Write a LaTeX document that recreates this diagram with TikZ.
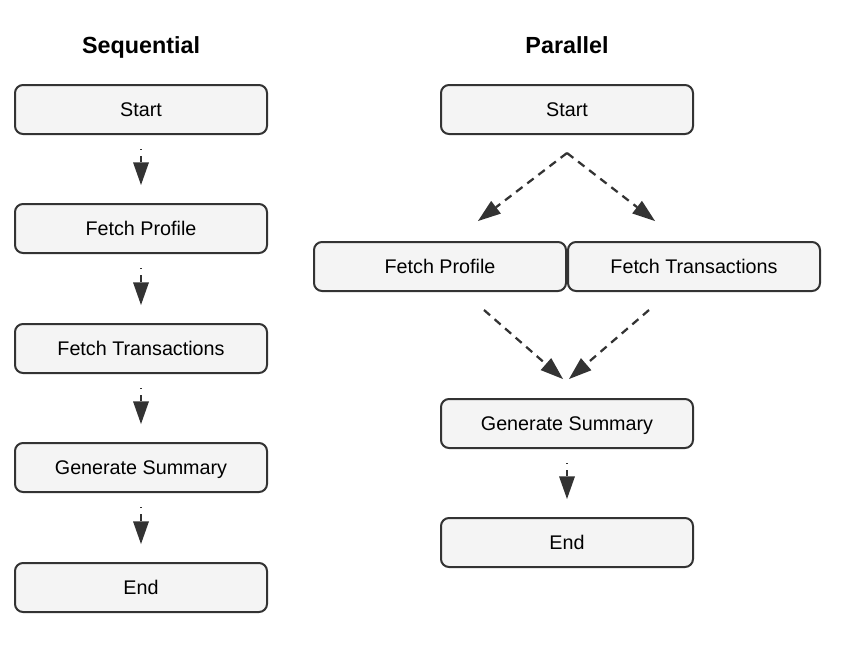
\documentclass[tikz,border=0pt]{standalone}
\usepackage{fontspec}
\setmainfont{Liberation Sans}
\usetikzlibrary{arrows.meta,calc}
\definecolor{edge}{HTML}{333333}
\definecolor{boxfill}{HTML}{F4F4F4}
\begin{document}
\begin{tikzpicture}[x=0.75pt,y=-0.75pt,
  stepbox/.style={draw=edge,fill=boxfill,line width=1.5pt,rounded corners=6pt,
    minimum width=189pt,minimum height=36.75pt,inner sep=0pt,
    text height=10.6pt,text depth=0pt,
    font=\fontsize{14.8}{17}\selectfont,text=black},
  title/.style={font=\fontsize{17.5}{20}\selectfont\bfseries,text=black,anchor=base},
  flow/.style={draw=edge,line width=1.7pt,dash pattern=on 6pt off 4.5pt,
    -{Triangle[length=17pt,width=12pt,line width=0pt,fill=edge]}},
  seqflow/.style={flow,dash phase=4.9pt,shorten <=10.5pt,shorten >=13.5pt}]
\useasboundingbox (0,0) rectangle (853,664);
\node[title] (tseq) at (141,53.5) {Sequential};
\node[title] (tpar) at (567,53.5) {Parallel};
% sequential
\node[stepbox] (s1) at (141,109.5) {Start};
\node[stepbox] (s2) at (141,228.5) {Fetch Profile};
\node[stepbox] (s3) at (141,348.5) {Fetch Transactions};
\node[stepbox] (s4) at (141,467.5) {Generate Summary};
\node[stepbox] (s5) at (141,587.5) {End};
\draw[seqflow] (s1.south) -- (s2.north);
\draw[seqflow] (s2.south) -- (s3.north);
\draw[seqflow] (s3.south) -- (s4.north);
\draw[seqflow] (s4.south) -- (s5.north);
% parallel
\node[stepbox] (p1) at (567,109.5) {Start};
\node[stepbox] (pfp) at (440,266.5) {Fetch Profile};
\node[stepbox] (pft) at (694,266.5) {Fetch Transactions};
\node[stepbox] (pgs) at (567,423.5) {Generate Summary};
\node[stepbox] (pend) at (567,542.5) {End};
\draw[flow] ($(p1.south)+(0,18)$) -- ($(pfp.north)+(38,-20)$);
\draw[flow] ($(p1.south)+(0,18)$) -- ($(pft.north)+(-39,-20)$);
\draw[flow] ($(pfp.south)+(44,18)$) -- ($(pgs.north)+(-4,-19)$);
\draw[flow] ($(pft.south)+(-45,18)$) -- ($(pgs.north)+(2,-19)$);
\draw[seqflow] (pgs.south) -- (pend.north);
\end{tikzpicture}
\end{document}
